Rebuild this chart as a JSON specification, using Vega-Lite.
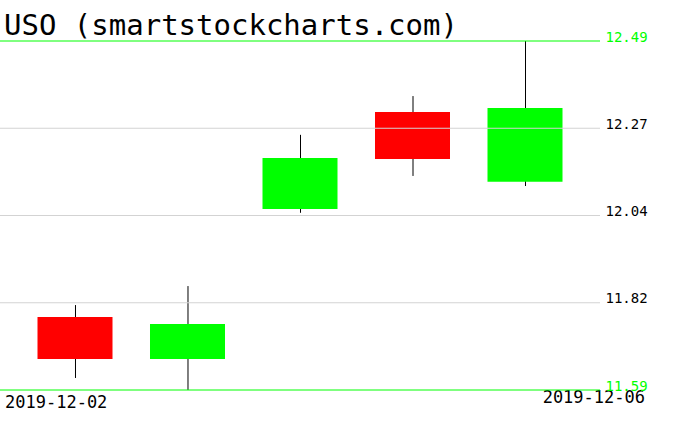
{
  "$schema": "https://vega.github.io/schema/vega-lite/v6.json",
  "autosize": "none",
  "width": 600,
  "height": 349,
  "padding": {"left": 0, "top": 41, "right": 76, "bottom": 41},
  "background": "white",
  "title": {
    "text": "USO (smartstockcharts.com)",
    "anchor": "start",
    "frame": "group",
    "dx": 4,
    "offset": -11,
    "font": "DejaVu Sans Mono",
    "fontSize": 29,
    "fontWeight": "normal",
    "color": "black"
  },
  "config": {
    "view": {"stroke": null},
    "axis": {"labelFont": "DejaVu Sans Mono", "labelColor": "black"},
    "axisY": {
      "title": null,
      "domain": false,
      "ticks": false,
      "grid": false,
      "labelFontSize": 14,
      "labelPadding": 5,
      "labelBaseline": "alphabetic"
    }
  },
  "datasets": {
    "prices": [
      {"date": "2019-12-02", "open": 11.778, "high": 11.809, "low": 11.621, "close": 11.670},
      {"date": "2019-12-03", "open": 11.670, "high": 11.858, "low": 11.590, "close": 11.760},
      {"date": "2019-12-04", "open": 12.057, "high": 12.248, "low": 12.047, "close": 12.188},
      {"date": "2019-12-05", "open": 12.307, "high": 12.348, "low": 12.142, "close": 12.186},
      {"date": "2019-12-06", "open": 12.127, "high": 12.490, "low": 12.116, "close": 12.317}
    ],
    "levels": [
      {"level": 11.59},
      {"level": 11.815},
      {"level": 12.04},
      {"level": 12.265},
      {"level": 12.49}
    ]
  },
  "layer": [
    {
      "data": {"name": "prices"},
      "mark": {"type": "rule", "color": "black", "strokeWidth": 1, "xOffset": 0.5},
      "encoding": {
        "x": {
          "field": "date",
          "type": "ordinal",
          "scale": {"paddingInner": 0.3333, "paddingOuter": 0.3333},
          "axis": {
            "title": null,
            "domain": false,
            "ticks": false,
            "labelAngle": 0,
            "labelFontSize": 17,
            "labelExpr": "datum.value == '2019-12-02' || datum.value == '2019-12-06' ? datum.value : ''",
            "labelAlign": {"condition": {"test": "datum.value == '2019-12-02'", "value": "left"}, "value": "right"},
            "labelOffset": {"condition": {"test": "datum.value == '2019-12-02'", "value": -70}, "value": 120},
            "labelPadding": {"condition": {"test": "datum.value == '2019-12-02'", "value": 4}, "value": -1}
          }
        },
        "y": {
          "field": "low",
          "type": "quantitative",
          "scale": {"domain": [11.59, 12.49], "nice": false, "zero": false},
          "axis": {
            "orient": "right",
            "values": [11.59, 11.8151, 12.04, 12.2651, 12.49],
            "format": ".2f",
            "labelColor": {"condition": {"test": "datum.value < 11.6 || datum.value > 12.48", "value": "#00ff00"}, "value": "black"}
          }
        },
        "y2": {"field": "high"}
      }
    },
    {
      "data": {"name": "prices"},
      "mark": {"type": "bar"},
      "encoding": {
        "x": {"field": "date", "type": "ordinal"},
        "y": {"field": "open", "type": "quantitative"},
        "y2": {"field": "close"},
        "color": {
          "condition": {"test": "datum.close < datum.open", "value": "#ff0000"},
          "value": "#00ff00"
        }
      }
    },
    {
      "data": {"name": "levels"},
      "mark": {"type": "rule", "strokeWidth": 1},
      "encoding": {
        "y": {"field": "level", "type": "quantitative"},
        "color": {
          "condition": {"test": "datum.level < 11.6 || datum.level > 12.48", "value": "#00ff00"},
          "value": "#d3d3d3"
        }
      }
    }
  ]
}
